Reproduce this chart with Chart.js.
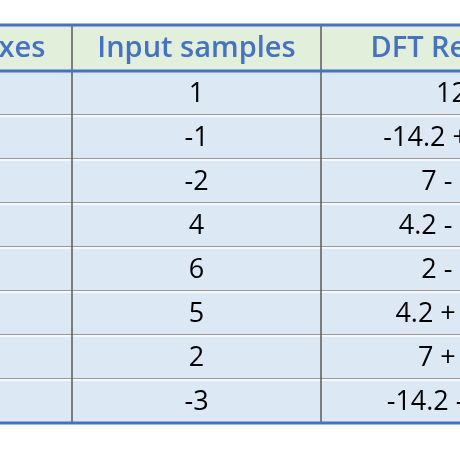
<!DOCTYPE html>
<html>
<head>
<meta charset="utf-8">
<script src="https://cdn.jsdelivr.net/npm/chart.js@4"></script>
<style>
  body { margin: 0; background: #fff; }
  #wrap { width: 460px; height: 460px; }
</style>
</head>
<body>
<div id="wrap"><canvas id="chart-table" width="460" height="460"></canvas></div>
<script>
const headers = ["Indexes", "Input samples", "DFT Results"];
const indexes = ["0", "1", "2", "3", "4", "5", "6", "7"];
const inputSamples = [1, -1, -2, 4, 6, 5, 2, -3];
const dftResults = ["12", "-14.2 + 3.3j", "7 - 3j", "4.2 - 4.7j", "2 - 0j", "4.2 + 4.7j", "7 + 3j", "-14.2 - 3.3j"];

// column edges and row edges in table units (pixel-like space of the scales)
const colEdges = [-90, 72, 321, 582];
const headerTop = 25, headerBottom = 71, rowHeight = 44;

const tablePlugin = {
  id: "tablePlugin",
  afterDraw(chart) {
    const ctx = chart.ctx;
    const xs = chart.scales.x, ys = chart.scales.y;
    const px = (v) => xs.getPixelForValue(v);
    const py = (v) => ys.getPixelForValue(v);
    const nRows = inputSamples.length;
    const bottom = headerBottom + rowHeight * nRows;
    ctx.save();
    // fills
    ctx.fillStyle = "#e2efda";
    ctx.fillRect(px(colEdges[0]), py(headerTop), px(colEdges[3]) - px(colEdges[0]), py(headerBottom) - py(headerTop));
    ctx.fillStyle = "#dde8f5";
    ctx.fillRect(px(colEdges[0]), py(headerBottom), px(colEdges[3]) - px(colEdges[0]), py(bottom) - py(headerBottom));
    // row lines
    ctx.strokeStyle = "#ffffff";
    ctx.lineWidth = 1.5;
    for (let i = 1; i < nRows; i++) {
      const y = py(headerBottom + rowHeight * i) + 1;
      ctx.beginPath(); ctx.moveTo(px(colEdges[0]), y); ctx.lineTo(px(colEdges[3]), y); ctx.stroke();
    }
    ctx.strokeStyle = "#9a9a9a";
    ctx.lineWidth = 1;
    for (let i = 1; i < nRows; i++) {
      const y = py(headerBottom + rowHeight * i) - 0.5;
      ctx.beginPath(); ctx.moveTo(px(colEdges[0]), y); ctx.lineTo(px(colEdges[3]), y); ctx.stroke();
    }
    // column lines
    ctx.strokeStyle = "#5a5a5a";
    ctx.lineWidth = 1.5;
    [colEdges[1], colEdges[2]].forEach(function (c) {
      ctx.beginPath(); ctx.moveTo(px(c), py(headerTop)); ctx.lineTo(px(c), py(bottom)); ctx.stroke();
    });
    // thick blue borders
    ctx.strokeStyle = "#4472c4";
    ctx.lineWidth = 3;
    [headerTop, headerBottom, bottom].forEach(function (r) {
      ctx.beginPath(); ctx.moveTo(px(colEdges[0]), py(r)); ctx.lineTo(px(colEdges[3]), py(r)); ctx.stroke();
    });
    // text
    ctx.textAlign = "center";
    ctx.textBaseline = "middle";
    ctx.fillStyle = "#4472c4";
    ctx.font = "600 29px 'Open Sans'";
    headers.forEach(function (h, i) {
      ctx.fillText(h, px((colEdges[i] + colEdges[i + 1]) / 2), py((headerTop + headerBottom) / 2) + 1);
    });
    ctx.fillStyle = "#000000";
    ctx.font = "27px 'Open Sans'";
    for (let i = 0; i < nRows; i++) {
      const y = py(headerBottom + rowHeight * (i + 0.5)) + 1;
      ctx.fillText(indexes[i], px((colEdges[0] + colEdges[1]) / 2), y);
      ctx.fillText(String(inputSamples[i]), px((colEdges[1] + colEdges[2]) / 2), y);
      ctx.fillText(dftResults[i], px((colEdges[2] + colEdges[3]) / 2), y);
    }
    ctx.restore();
  }
};

new Chart(document.getElementById("chart-table"), {
  type: "scatter",
  data: { datasets: [{ data: [], pointRadius: 0 }] },
  options: {
    responsive: false,
    animation: false,
    layout: { padding: 0 },
    plugins: { legend: { display: false }, tooltip: { enabled: false } },
    scales: {
      x: { type: "linear", min: 0, max: 460, display: false },
      y: { type: "linear", min: 0, max: 460, reverse: true, display: false }
    }
  },
  plugins: [tablePlugin]
});
</script>
</body>
</html>
